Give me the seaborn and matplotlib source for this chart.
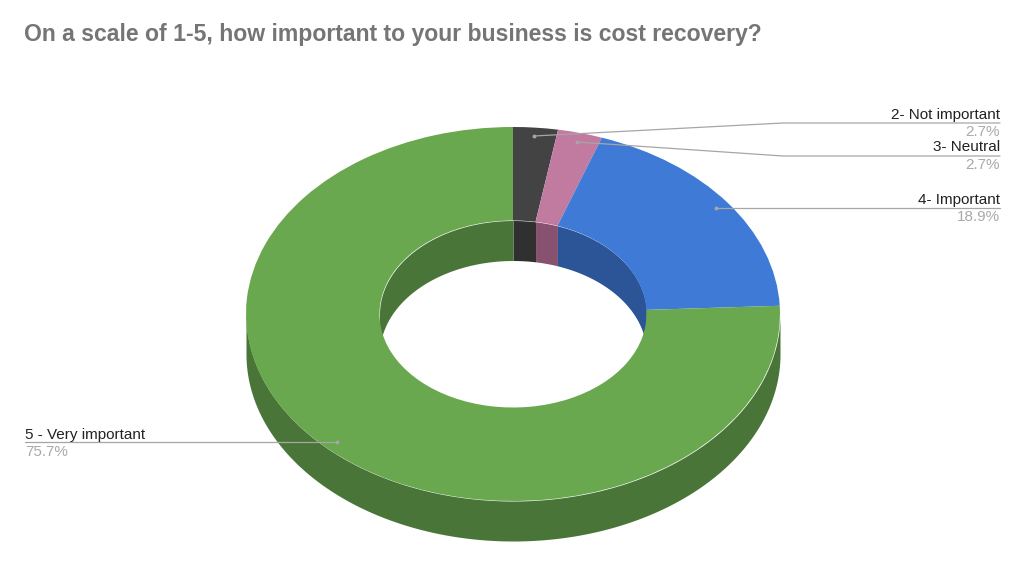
import numpy as np
import matplotlib
matplotlib.use('Agg')
import matplotlib.pyplot as plt
import seaborn as sns

title = 'On a scale of 1-5, how important to your business is cost recovery?'
labels = ['2- Not important', '3- Neutral', '4- Important', '5 - Very important']
shares = [2.7, 2.7, 18.9, 75.7]
face_colors = ['#434343', '#C27BA0', '#3F7AD6', '#6AA84F']
wall_colors = ['#303030', '#87526F', '#2B5596', '#4A7539']

W, H = 1024, 568
cx, cy = 513, 314     # centre of the top face, pixels
rx, ry = 267, 187     # radii of the outer ellipse, pixels
depth = 40 / ry
hole = 0.5

sns.set_theme(style='white')
plt.rcParams['font.family'] = ['Liberation Sans', 'DejaVu Sans']


def px(x, y):
    # picture pixels to pie units
    return (x - cx) / rx, (cy - y) / ry


fig = plt.figure(figsize=(W / 100, H / 100), dpi=100)
ax = fig.add_axes([0, 0, 1, 1])

# side walls go under the top face
edges = np.cumsum([0] + shares) / 100 * 2 * np.pi
for i in range(len(shares)):
    a0, a1 = edges[i], edges[i + 1]

    # inner wall, only the far side of the hole shows
    for lo, hi in [(0, np.pi / 2), (1.5 * np.pi, 2 * np.pi)]:
        s, e = max(a0, lo), min(a1, hi)
        if s < e:
            t = np.linspace(s, e, 120)
            x = hole * np.sin(t)
            y = hole * np.cos(t)
            ax.fill_between(x, y - depth, y, color=wall_colors[i], lw=0, zorder=1)

    # outer wall, only the near side shows
    s, e = max(a0, np.pi / 2), min(a1, 1.5 * np.pi)
    if s < e:
        t = np.linspace(s, e, 300)
        x = np.sin(t)
        y = np.cos(t)
        ax.fill_between(x, y - depth, y, color=wall_colors[i], lw=0, zorder=1)

wedges, _ = ax.pie(shares, colors=sns.color_palette(face_colors), startangle=90,
                   counterclock=False, radius=1,
                   wedgeprops={'width': hole, 'linewidth': 0})
for w in wedges:
    w.set_zorder(2)

ax.set_aspect('auto')
ax.set_xlim(-cx / rx, (W - cx) / rx)
ax.set_ylim((cy - H) / ry, cy / ry)
ax.axis('off')

# leader lines, in pixels: dot, elbow, end
leaders = [
    [(534, 136), (783, 123), (1000, 123)],
    [(577, 142), (783, 156), (1000, 156)],
    [(716, 208), (1000, 208)],
    [(337, 442), (25, 442)],
]
for pts in leaders:
    x, y = zip(*[px(*p) for p in pts])
    ax.plot(x, y, color='#a6a6a6', lw=0.9, zorder=3)
    ax.plot(x[0], y[0], 'o', color='#a6a6a6', ms=1.8, zorder=3)

# text positions in pixels: x, label y, percent y, alignment
places = [(1000, 115, 132, 'right'), (1000, 147, 165, 'right'),
          (1000, 200, 217, 'right'), (25, 435, 452, 'left')]
for name, share, (x, y1, y2, ha) in zip(labels, shares, places):
    ax.text(*px(x, y1), name, ha=ha, va='center', fontsize=11, color='#222222', zorder=4)
    ax.text(*px(x, y2), f'{share}%', ha=ha, va='center', fontsize=11, color='#a9a9a9', zorder=4)

ax.text(*px(24, 34), title, ha='left', va='center', fontsize=16.6, fontweight='bold', color='#757575')

fig.savefig('out.png', dpi=100, facecolor='white')
